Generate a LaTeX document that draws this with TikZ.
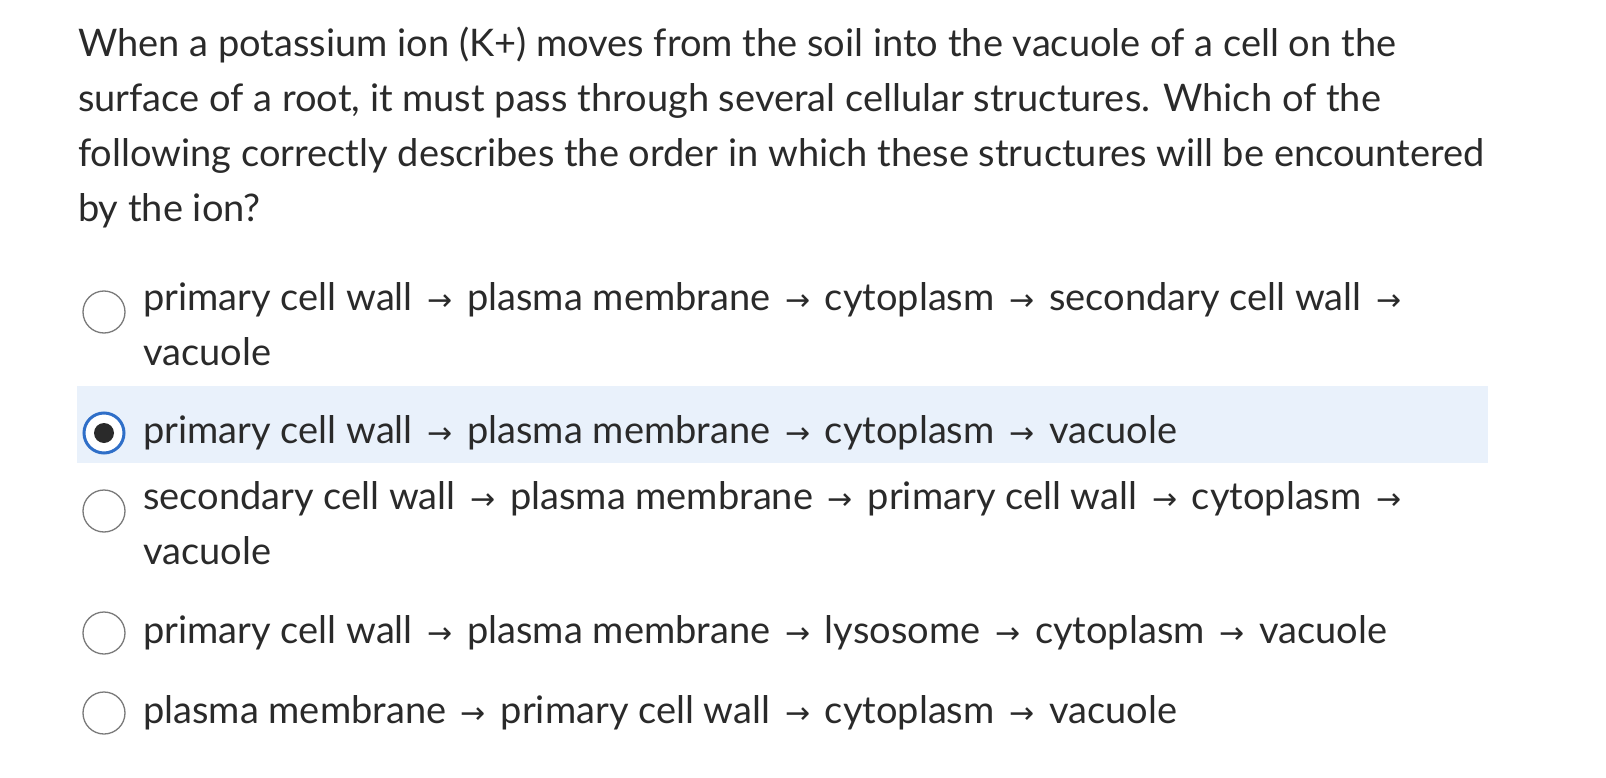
\documentclass[tikz,border=0pt]{standalone}
\usepackage{fontspec}
\setmainfont{Lato}
\newfontfamily\arr{DejaVu Sans}
\definecolor{txt}{HTML}{2A2A2A}
\definecolor{band}{HTML}{E9F1FB}
\definecolor{ring}{HTML}{7A7A7A}
\definecolor{sel}{HTML}{2F6FC8}
\newcommand{\ar}{\hspace{5pt}{\arr\fontsize{30}{36}\selectfont →}\hspace{5pt}}
\begin{document}
\begin{tikzpicture}[x=1pt,y=-1pt,
  tx/.style={anchor=base west,inner sep=0pt,text=txt,font=\fontsize{38}{44}\selectfont},
  radio/.style={circle,draw=ring,line width=1.3pt,fill=white,minimum size=42pt,inner sep=0pt}]
\useasboundingbox[fill=white] (0,0) rectangle (1606,778);
\node[tx] (q1) at (78,57) {When a potassium ion (K+) moves from the soil into the vacuole of a cell on the};
\node[tx] (q2) at (78,112) {surface of a root, it must pass through several cellular structures. Which of the};
\node[tx] (q3) at (78,167) {following correctly describes the order in which these structures will be encountered};
\node[tx] (q4) at (78,222) {by the ion?};
\fill[band] (77,386) rectangle (1488,463);
\node[radio] (r1) at (104,312) {};
\node[tx] (a1) at (143,310) {primary cell wall \ar\ plasma membrane \ar\ cytoplasm \ar\ secondary cell wall \ar};
\node[tx] (a1b) at (143,365) {vacuole};
\node[radio,draw=sel,line width=3pt,minimum size=40pt] (r2) at (104,433) {};
\node[circle,fill=txt,minimum size=20pt,inner sep=0pt] (d2) at (r2.center) {};
\node[tx] (a2) at (143,443) {primary cell wall \ar\ plasma membrane \ar\ cytoplasm \ar\ vacuole};
\node[radio] (r3) at (104,511) {};
\node[tx] (a3) at (143,509) {secondary cell wall \ar\ plasma membrane \ar\ primary cell wall \ar\ cytoplasm \ar};
\node[tx] (a3b) at (143,564) {vacuole};
\node[radio] (r4) at (104,633) {};
\node[tx] (a4) at (143,643) {primary cell wall \ar\ plasma membrane \ar\ lysosome \ar\ cytoplasm \ar\ vacuole};
\node[radio] (r5) at (104,713) {};
\node[tx] (a5) at (143,723) {plasma membrane \ar\ primary cell wall \ar\ cytoplasm \ar\ vacuole};
\end{tikzpicture}
\end{document}
